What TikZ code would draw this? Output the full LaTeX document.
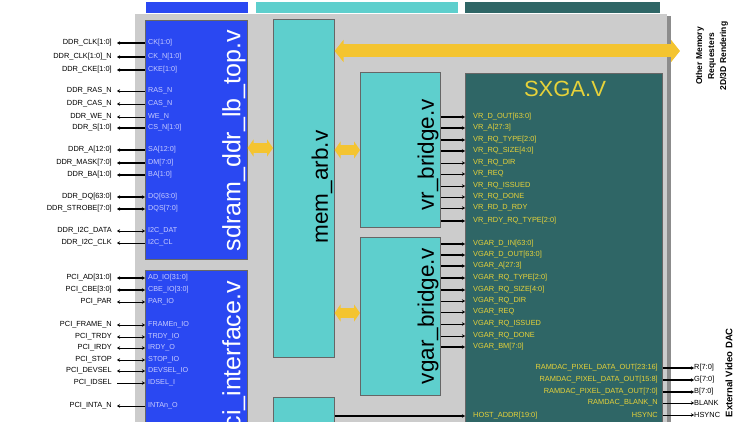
\documentclass[tikz,border=0pt]{standalone}
\usepackage{fontspec}
\setmainfont{Liberation Sans}
\usetikzlibrary{arrows.meta}
\definecolor{cblue}{HTML}{2A48F2}
\definecolor{ccyan}{HTML}{5ECFCD}
\definecolor{cteal}{HTML}{2F6666}
\definecolor{cgray}{HTML}{CCCCCC}
\definecolor{cyel}{HTML}{F4C430}
\definecolor{ctxt}{HTML}{E6D23A}
\definecolor{cpin}{HTML}{C8CCFF}
\tikzset{
 blk/.style={draw=black!60,line width=0.6pt},
 ext/.style={anchor=east,inner sep=0pt,font=\fontsize{7.4}{8}\selectfont},
 pin/.style={anchor=west,inner sep=0pt,text=cpin,font=\fontsize{7.2}{8}\selectfont},
 ylab/.style={anchor=west,inner sep=0pt,text=ctxt,font=\fontsize{7.4}{8}\selectfont},
 ylabr/.style={anchor=east,inner sep=0pt,text=ctxt,font=\fontsize{7.4}{8}\selectfont},
 title/.style={rotate=90,inner sep=0pt,font=\fontsize{22.5}{24}\selectfont},
 sout/.style={{Stealth[length=3pt,width=3.5pt]}-},
 sin/.style={-{Stealth[length=3pt,width=3.5pt]}},
 sbi/.style={{Stealth[length=3pt,width=3.5pt]}-{Stealth[length=3pt,width=3.5pt]}},
 yarr/.style={cyel,line width=10pt,{Triangle[length=6pt,width=17pt]}-{Triangle[length=6pt,width=17pt]}},
}
\begin{document}
\begin{tikzpicture}[x=1pt,y=-1pt]
\useasboundingbox (0,0) rectangle (750,422);
\clip (0,0) rectangle (750,422);
% background panel
\fill[black!45] (667,16) rectangle (671,430);
\fill[cgray] (135,14) rectangle (667,430);
% top bars
\fill[cblue] (146,2) rectangle (248,13);
\fill[ccyan] (256,2) rectangle (458,13);
\fill[cteal] (465,2) rectangle (660,13);
% blocks
\node[blk,fill=cblue,minimum width=102pt,minimum height=239pt,anchor=north west,inner sep=0pt] (sd) at (145,20) {};
\node[blk,fill=cblue,minimum width=102pt,minimum height=170pt,anchor=north west,inner sep=0pt] (pci) at (145,270) {};
\node[blk,fill=ccyan,minimum width=61pt,minimum height=338pt,anchor=north west,inner sep=0pt] (arb) at (273,19) {};
\node[blk,fill=ccyan,minimum width=61pt,minimum height=40pt,anchor=north west,inner sep=0pt] (bot) at (273,397) {};
\node[blk,fill=ccyan,minimum width=80pt,minimum height=155pt,anchor=north west,inner sep=0pt] (vr) at (360,72) {};
\node[blk,fill=ccyan,minimum width=80pt,minimum height=158pt,anchor=north west,inner sep=0pt] (vg) at (360,237) {};
\node[blk,fill=cteal,minimum width=197pt,minimum height=360pt,anchor=north west,inner sep=0pt] (sx) at (465,73) {};
% titles
\node[title,text=white,anchor=east,font=\fontsize{25}{26}\selectfont] at (234,30) {sdram\_ddr\_lb\_top.v};
\node[title,text=white,anchor=east,font=\fontsize{25}{26}\selectfont] at (234,281) {pci\_interface.v};
\node[title] at (322,187) {mem\_arb.v};
\node[title] at (428,155) {vr\_bridge.v};
\node[title] at (428,316) {vgar\_bridge.v};
\node[inner sep=0pt,text=ctxt,font=\fontsize{22}{24}\selectfont] at (565,89) {SXGA.V};
% yellow arrows
\draw[cyel,line width=13pt,{Triangle[length=9pt,width=22pt]}-{Triangle[length=9pt,width=22pt]}] (arb.east|-0,51) -- (680,51);
\draw[yarr] (sd.east|-0,148) -- (arb.west|-0,148);
\draw[yarr] (arb.east|-0,150) -- (vr.west|-0,150);
\draw[yarr] (arb.east|-0,313) -- (vg.west|-0,313);
% left signals
\foreach \y/\e/\p/\a/\w in {
43/DDR\_CLK[1:0]/CK[1:0]/sout/1.6,
57/DDR\_CLK[1:0]\_N/CK\_N[1:0]/sout/1.6,
70/DDR\_CKE[1:0]/CKE[1:0]/sout/1.6,
91/DDR\_RAS\_N/RAS\_N/sout/0.6,
104/DDR\_CAS\_N/CAS\_N/sout/0.6,
117/DDR\_WE\_N/WE\_N/sout/0.6,
128/DDR\_S[1:0]/CS\_N[1:0]/sout/1.6,
150/DDR\_A[12:0]/SA[12:0]/sout/1.6,
163/DDR\_MASK[7:0]/DM[7:0]/sout/1.6,
175/DDR\_BA[1:0]/BA[1:0]/sout/1.6,
197/DDR\_DQ[63:0]/DQ[63:0]/sbi/1.6,
209/DDR\_STROBE[7:0]/DQS[7:0]/sbi/1.6,
231/DDR\_I2C\_DATA/I2C\_DAT/sbi/0.6,
243/DDR\_I2C\_CLK/I2C\_CL/sout/0.6,
278/PCI\_AD[31:0]/AD\_IO[31:0]/sbi/1.6,
290/PCI\_CBE[3:0]/CBE\_IO[3:0]/sbi/1.6,
302/PCI\_PAR/PAR\_IO/sbi/0.9,
325/PCI\_FRAME\_N/FRAMEn\_IO/sbi/0.9,
337/PCI\_TRDY/TRDY\_IO/sbi/0.9,
348/PCI\_IRDY/IRDY\_O/sbi/0.9,
360/PCI\_STOP/STOP\_IO/sbi/0.9,
371/PCI\_DEVSEL/DEVSEL\_IO/sbi/0.9,
383/PCI\_IDSEL/IDSEL\_I/sin/0.9,
406/PCI\_INTA\_N/INTAn\_O/sout/0.6}{
 \node[ext] (e\y) at (112,\y) {\e};
 \node[pin] (p\y) at (148,\y) {\p};
 \draw[\a,line width=\w pt] (e\y.east)++(5,0) -- (sd.west|-p\y);
}
% VR signals
\foreach \y/\t/\w in {117/VR\_D\_OUT[63:0]/1.6,128/VR\_A[27:3]/1.6,140/VR\_RQ\_TYPE[2:0]/1.6,151/VR\_RQ\_SIZE[4:0]/1.6,163/VR\_RQ\_DIR/0.6,174/VR\_REQ/0.6,186/VR\_RQ\_ISSUED/0.6,197/VR\_RQ\_DONE/0.6,208/VR\_RD\_D\_RDY/0.6,221/VR\_RDY\_RQ\_TYPE[2:0]/1.6}{
 \node[ylab] (v\y) at (473,\y) {\t};
 \draw[line width=\w pt,sout] (sx.west|-v\y) -- (vr.east|-v\y);
}
\foreach \y/\t/\w in {244/VGAR\_D\_IN[63:0]/1.6,255/VGAR\_D\_OUT[63:0]/1.6,266/VGAR\_A[27:3]/1.6,278/VGAR\_RQ\_TYPE[2:0]/1.6,290/VGAR\_RQ\_SIZE[4:0]/1.6,301/VGAR\_RQ\_DIR/0.6,312/VGAR\_REQ/0.6,324/VGAR\_RQ\_ISSUED/0.6,336/VGAR\_RQ\_DONE/0.6,347/VGAR\_BM[7:0]/1.6}{
 \node[ylab] (g\y) at (473,\y) {\t};
 \draw[line width=\w pt,sout] (sx.west|-g\y) -- (vg.east|-g\y);
}
\node[ylab] (ha) at (473,416) {HOST\_ADDR[19:0]};
\draw[line width=1.6pt,sin] (bot.east|-ha) -- (sx.west|-ha);
% RAMDAC outputs
\foreach \y/\t/\o/\w in {368/RAMDAC\_PIXEL\_DATA\_OUT[23:16]/R[7:0]/1.6,380/RAMDAC\_PIXEL\_DATA\_OUT[15:8]/G[7:0]/1.6,392/RAMDAC\_PIXEL\_DATA\_OUT[7:0]/B[7:0]/1.6,403/RAMDAC\_BLANK\_N/BLANK/0.6,415/HSYNC/HSYNC/0.6}{
 \node[ylabr] (r\y) at (658,\y) {\t};
 \node[ext,anchor=west] (o\y) at (694,\y) {\o};
 \draw[line width=\w pt,sin] (sx.east|-r\y) -- (o\y.west);
}
\node[rotate=90,anchor=east,inner sep=0pt,font=\bfseries\fontsize{9.5}{10}\selectfont] at (729,328) {External Video DAC};
\node[rotate=90,align=center,inner sep=0pt,font=\bfseries\fontsize{8.5}{12}\selectfont] at (712,56) {Other Memory\\Requesters\\2D/3D Rendering};
\end{tikzpicture}
\end{document}
